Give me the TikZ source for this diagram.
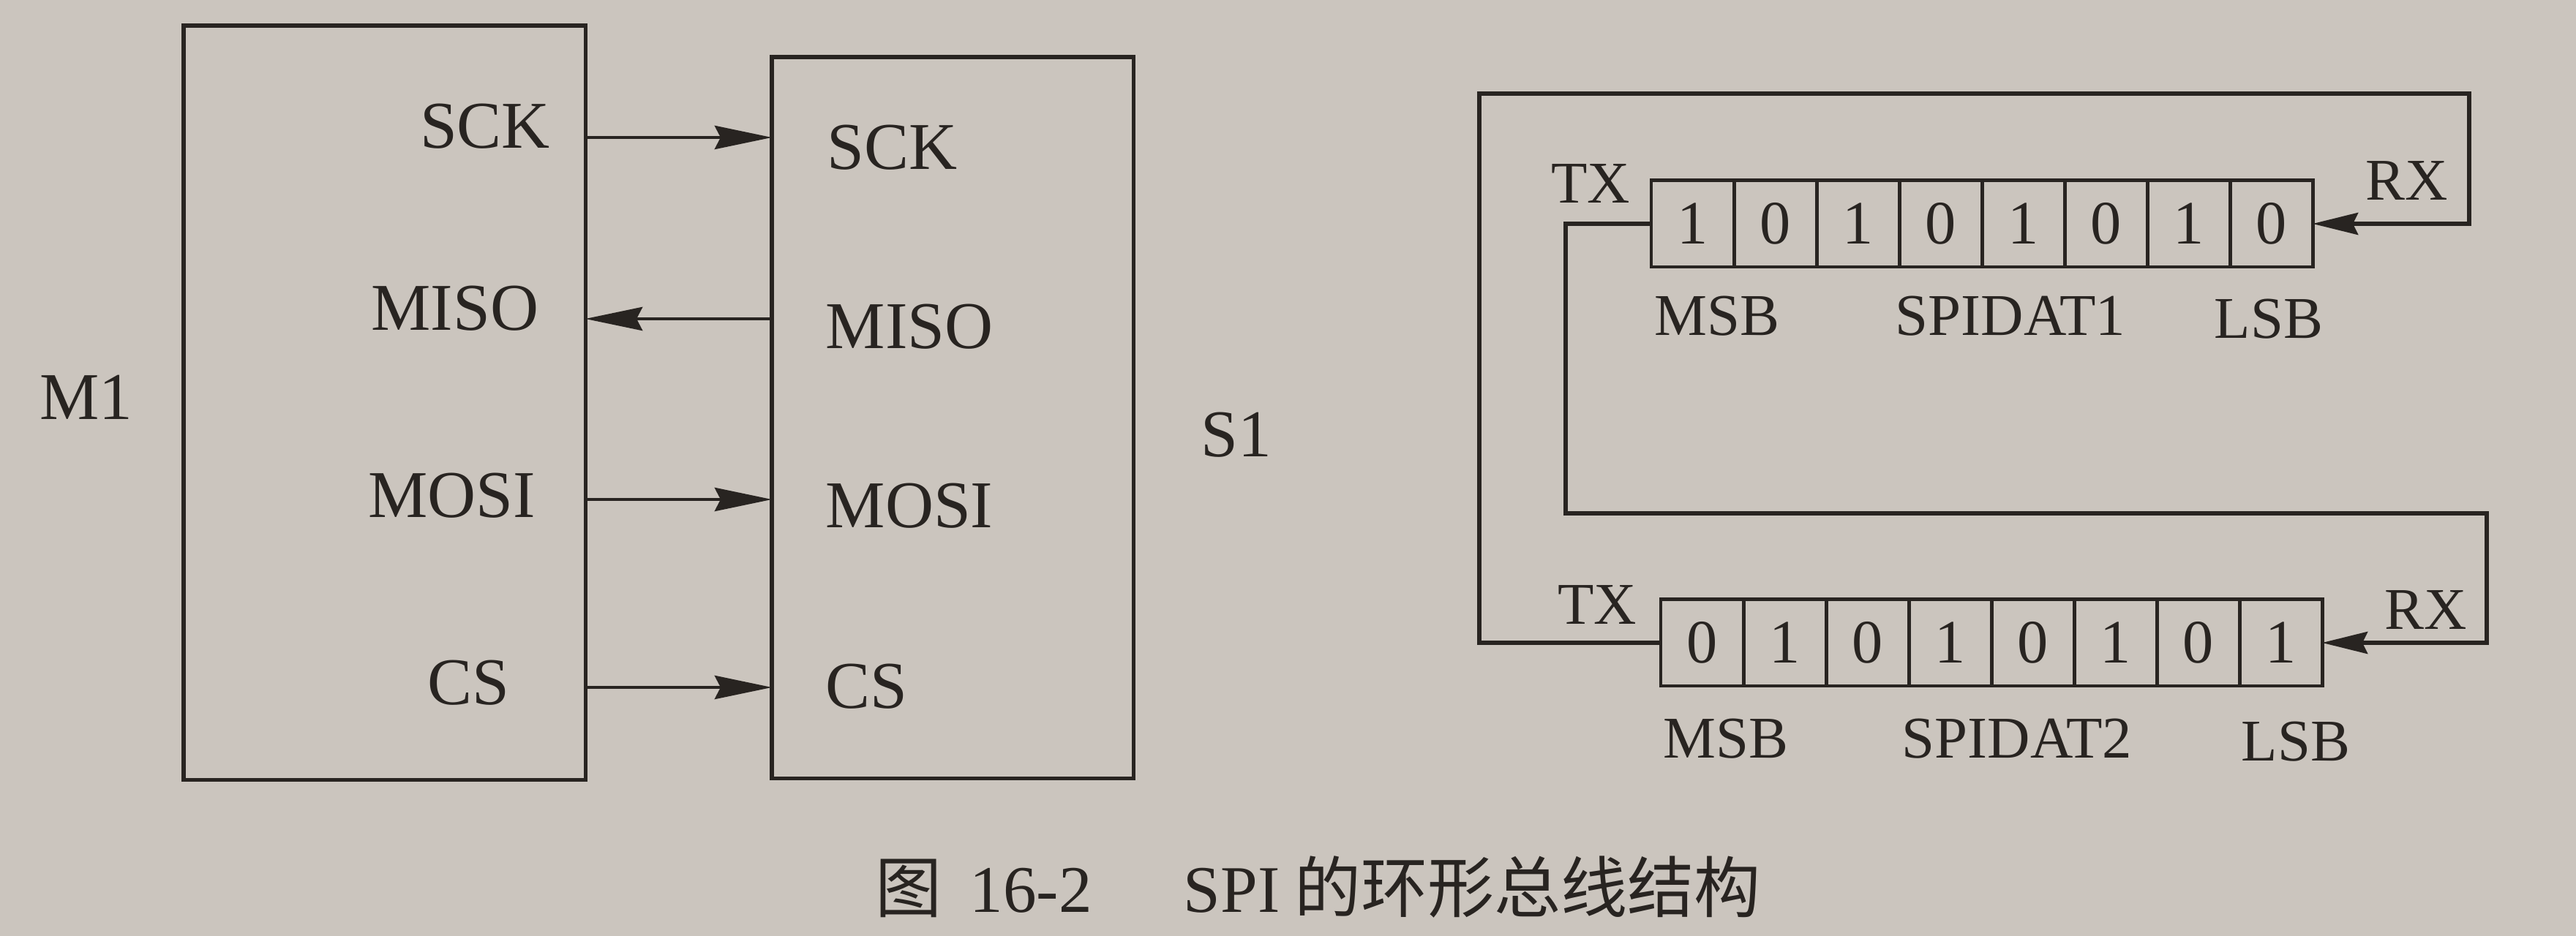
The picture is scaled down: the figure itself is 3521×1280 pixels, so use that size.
\documentclass[tikz,border=0pt]{standalone}
\usepackage{fontspec}
\setmainfont{Liberation Serif}
\newfontfamily\cjk{Noto Sans CJK SC}
\usetikzlibrary{arrows.meta}
\definecolor{paper}{RGB}{203,197,190}
\definecolor{ink}{RGB}{40,36,33}
\begin{document}
\begin{tikzpicture}[x=0.01cm,y=-0.01cm,
  box/.style={draw=ink, line width=1.5pt, inner sep=0, outer sep=0, anchor=north west},
  pin/.style={font=\fontsize{26}{30}\selectfont, text=ink, inner sep=0},
  reglbl/.style={font=\fontsize{23}{26}\selectfont, text=ink, inner sep=0},
  cell/.style={draw=ink, line width=1.4pt, minimum width=1.13cm, minimum height=1.18cm,
    inner sep=0, outer sep=0, font=\fontsize{24}{26}\selectfont, text=ink},
  conn/.style={draw=ink, line width=1.4pt, -{Stealth[length=7.8mm,width=3.2mm,inset=0.8mm]}},
  ring/.style={draw=ink, line width=1.5pt, -{Stealth[length=6.2mm,width=3mm,inset=0.7mm]}}
]
\fill[paper] (0,0) rectangle (3521,1280);
\useasboundingbox (0,0) rectangle (3521,1280);

% left master / slave boxes
\node[box, minimum width=5.49cm, minimum height=10.31cm] (m1box) at (251,35) {};
\node[box, minimum width=4.94cm, minimum height=9.86cm] (s1box) at (1055,78) {};

\node[pin] (m1) at (118,543) {M1};
\node[pin] (s1) at (1690,595) {S1};

\node[pin] (msck)  at (663,173) {SCK};
\node[pin] (mmiso) at (622,422) {MISO};
\node[pin] (mmosi) at (618,678) {MOSI};
\node[pin] (mcs)   at (640,934) {CS};

\node[pin, anchor=west] (ssck)  at (1130,202) {SCK};
\node[pin, anchor=west] (smiso) at (1128,447) {MISO};
\node[pin, anchor=west] (smosi) at (1128,692) {MOSI};
\node[pin, anchor=west] (scs)   at (1128,939) {CS};

\coordinate (m1p1) at (800,188);  \coordinate (s1p1) at (1055,188);
\coordinate (m1p2) at (800,436);  \coordinate (s1p2) at (1055,436);
\coordinate (m1p3) at (800,683);  \coordinate (s1p3) at (1055,683);
\coordinate (m1p4) at (800,940);  \coordinate (s1p4) at (1055,940);

\draw[conn] (m1p1) -- (s1p1);
\draw[conn] (s1p2) -- (m1p2);
\draw[conn] (m1p3) -- (s1p3);
\draw[conn] (m1p4) -- (s1p4);

% shift registers
\foreach \b [count=\i from 0] in {1,0,1,0,1,0,1,0}
  \node[cell] (ra\i) at ({2313.5+113*\i},306) {\b};
\foreach \b [count=\i from 0] in {0,1,0,1,0,1,0,1}
  \node[cell] (rb\i) at ({2326.5+113*\i},879) {\b};

\node[reglbl] (tx1) at (2174,251) {TX};
\node[reglbl] (rx1) at (3290,247) {RX};
\node[reglbl] (msb1) at (2347,432) {MSB};
\node[reglbl] (dat1) at (2748,432) {SPIDAT1};
\node[reglbl] (lsb1) at (3101,436) {LSB};

\node[reglbl] (tx2) at (2183,827) {TX};
\node[reglbl] (rx2) at (3316,834) {RX};
\node[reglbl] (msb2) at (2359,1010) {MSB};
\node[reglbl] (dat2) at (2757,1010) {SPIDAT2};
\node[reglbl] (lsb2) at (3138,1014) {LSB};

\coordinate (outl) at (2022,128);
\coordinate (outr) at (3375,306);
\coordinate (inl) at (2140,702);
\coordinate (inr) at (3399,879);

\draw[ring] (rb0.west) -| (outl) -| (outr) -- (ra7.east);
\draw[ring] (ra0.west) -| (inl) -| (inr) -- (rb7.east);

% caption
\node[anchor=west, inner sep=0, text=ink, font=\fontsize{25.9}{28}\selectfont] (cap) at (1196,1213)
  {{\cjk 图}\hspace{0.38cm}16-2\hspace{1.25cm}SPI\hspace{0.2cm}{\cjk 的环形总线结构}};
\end{tikzpicture}
\end{document}
